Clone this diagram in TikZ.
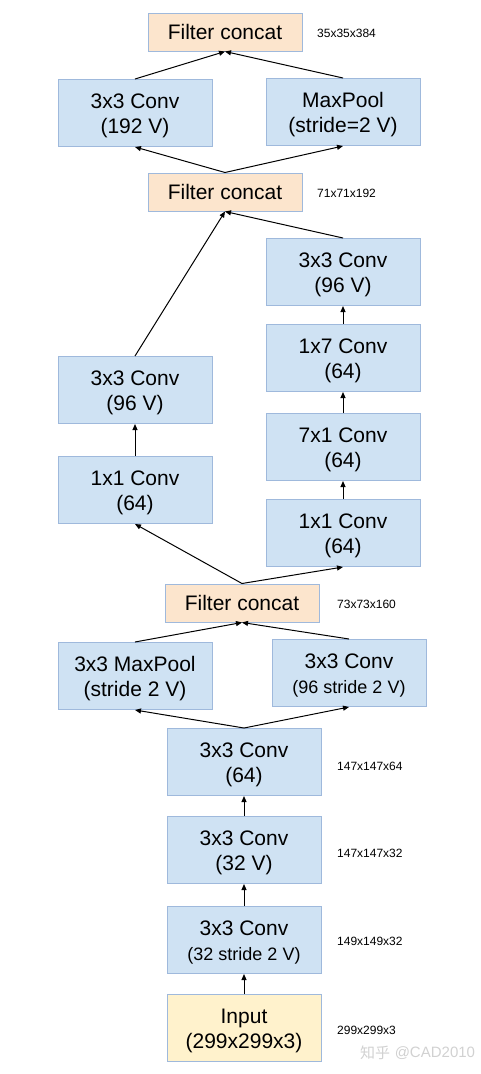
\documentclass[tikz,border=0pt]{standalone}
\usepackage{fontspec}
\setmainfont{Liberation Sans}
\newfontfamily\cjkfont{Noto Sans CJK SC}
\usetikzlibrary{arrows.meta}
\definecolor{convblue}{HTML}{CFE2F3}
\definecolor{concatorange}{HTML}{FCE5CD}
\definecolor{inputyellow}{HTML}{FFF2CC}
\definecolor{boxborder}{HTML}{9FB9DC}
\newcommand{\topgap}{\rule{0pt}{20pt}}
\tikzset{
    box/.style={draw=boxborder, line width=1pt, minimum width=154pt, inner sep=0pt, align=center, font=\fontsize{21}{24.5}\selectfont},
    layer/.style={box, fill=convblue, minimum height=67pt},
    concat/.style={box, fill=concatorange, minimum height=38pt},
    inputbox/.style={layer, fill=inputyellow},
    dims/.style={anchor=west, inner sep=0pt, font=\fontsize{12}{14}\selectfont},
    flow/.style={line width=1pt, -{Triangle[length=6pt, width=5pt]}}
}
\begin{document}
\begin{tikzpicture}[x=1pt, y=-1pt]
                    \useasboundingbox (0, 0) rectangle (480, 1074);

                    \node[concat] (fcA) at (225, 32) {Filter concat};
                    \node[layer] (convA) at (135, 113) {\topgap 3x3 Conv\\(192 V)};
                    \node[layer] (poolA) at (343, 112) {\topgap MaxPool\\(stride=2 V)};
                    \node[concat] (fcB) at (225, 192) {Filter concat};

                    \node[layer] (convRd) at (343, 272) {\topgap 3x3 Conv\\(96 V)};
                    \node[layer] (convRc) at (343, 358) {\topgap 1x7 Conv\\(64)};
                    \node[layer] (convRb) at (343, 447) {\topgap 7x1 Conv\\(64)};
                    \node[layer] (convRa) at (343, 533) {\topgap 1x1 Conv\\(64)};
                    \node[layer] (convLb) at (135, 390) {\topgap 3x3 Conv\\(96 V)};
                    \node[layer] (convLa) at (135, 490) {\topgap 1x1 Conv\\(64)};

                    \node[concat] (fcC) at (242, 603) {Filter concat};
                    \node[layer] (poolB) at (135, 676) {\topgap 3x3 MaxPool\\(stride 2 V)};
                    \node[layer] (convB) at (349, 673) {\topgap 3x3 Conv\\{\fontsize{18}{21}\selectfont(96 stride 2 V)}};

                    \node[layer] (stemC) at (244, 762) {\topgap 3x3 Conv\\(64)};
                    \node[layer] (stemB) at (244, 850) {\topgap 3x3 Conv\\(32 V)};
                    \node[layer] (stemA) at (244, 940) {\topgap 3x3 Conv\\{\fontsize{18}{21}\selectfont(32 stride 2 V)}};
                    \node[inputbox] (input) at (244, 1028) {\topgap Input\\(299x299x3)};

                    \node[dims] (dA) at (317, 33) {35x35x384};
                    \node[dims] (dB) at (317, 193) {71x71x192};
                    \node[dims] (dC) at (337, 604) {73x73x160};
                    \node[dims] (dD) at (337, 766) {147x147x64};
                    \node[dims] (dE) at (337, 853) {147x147x32};
                    \node[dims] (dF) at (337, 941) {149x149x32};
                    \node[dims] (dG) at (337, 1030) {299x299x3};
                    \node[anchor=west, inner sep=0pt, text=black!18, font=\fontsize{15}{17}\selectfont] (mark) at (360, 1053) {\cjkfont 知乎} ;
                    \node[anchor=west, inner sep=0pt, text=black!18, font=\fontsize{15}{17}\selectfont] (markB) at (mark.east) {\ @CAD2010};

                    \draw[flow] (input) -- (stemA);
                    \draw[flow] (stemA) -- (stemB);
                    \draw[flow] (stemB) -- (stemC);
                    \draw[flow] (stemC.north) -- (poolB.south);
                    \draw[flow] (stemC.north) -- (convB.south);
                    \draw[flow] (poolB.north) -- (fcC.south);
                    \draw[flow] (convB.north) -- (fcC.south);

                    \draw[flow] (fcC.north) -- (convLa.south);
                    \draw[flow] (fcC.north) -- (convRa.south);
                    \draw[flow] (convLa) -- (convLb);
                    \draw[flow] (convRa) -- (convRb);
                    \draw[flow] (convRb) -- (convRc);
                    \draw[flow] (convRc) -- (convRd);
                    \draw[flow] (convLb.north) -- (fcB.south);
                    \draw[flow] (convRd.north) -- (fcB.south);

                    \draw[flow] (fcB.north) -- (convA.south);
                    \draw[flow] (fcB.north) -- (poolA.south);
                    \draw[flow] (convA.north) -- (fcA.south);
                    \draw[flow] (poolA.north) -- (fcA.south);
                \end{tikzpicture}
\end{document}
